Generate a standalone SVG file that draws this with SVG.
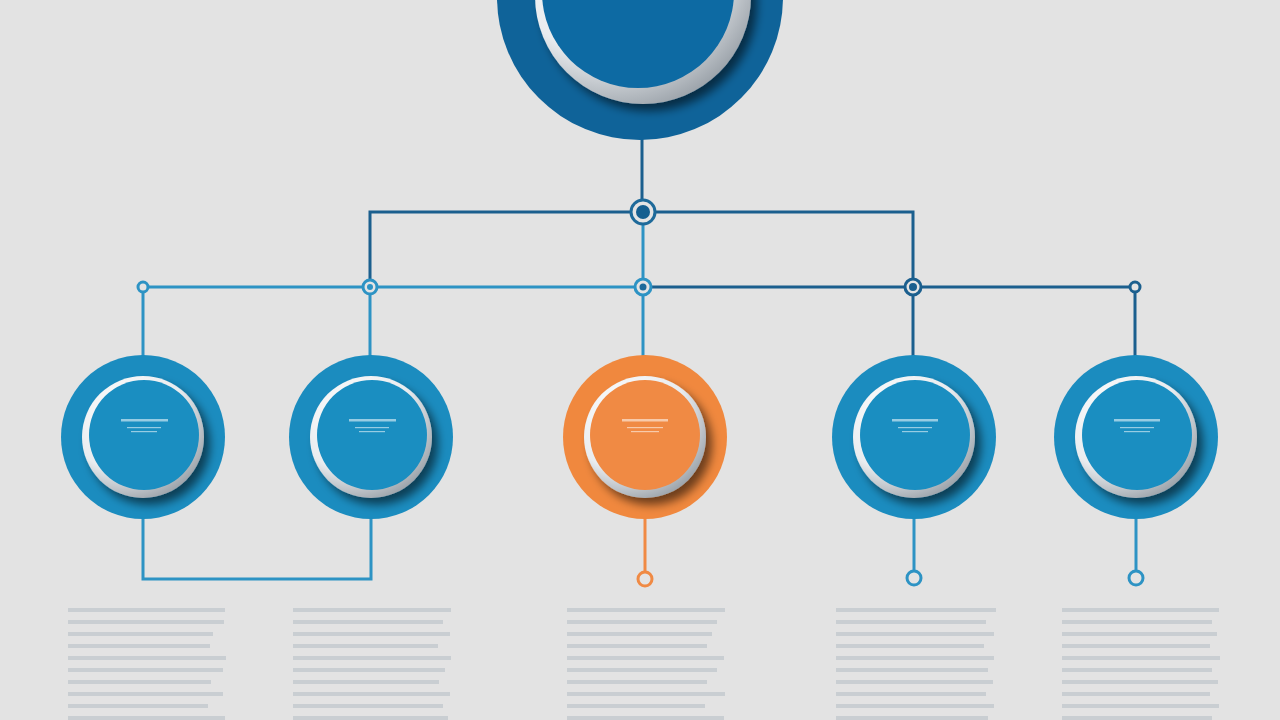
<svg xmlns="http://www.w3.org/2000/svg" width="1280" height="720" viewBox="0 0 1280 720">
  <defs>
    <radialGradient id="ring" cx="0.35" cy="0.3" r="0.8">
      <stop offset="0" stop-color="#ffffff"/>
      <stop offset="0.6" stop-color="#e9ecef"/>
      <stop offset="1" stop-color="#8e969e"/>
    </radialGradient>
    <filter id="sh" x="-30%" y="-30%" width="160%" height="160%">
      <feGaussianBlur in="SourceAlpha" stdDeviation="5"/>
      <feOffset dx="6" dy="7" result="b"/>
      <feComponentTransfer><feFuncA type="linear" slope="0.55"/></feComponentTransfer>
      <feMerge><feMergeNode/><feMergeNode in="SourceGraphic"/></feMerge>
    </filter>
    <style>
      .bl{stroke:#2d93c4;stroke-width:3;fill:none}
      .dk{stroke:#1b5f8e;stroke-width:3;fill:none}
      .jn{fill:#e4e4e4;stroke-width:3}
      .para rect{fill:#c2c8cd;opacity:0.8}
      .cap rect{fill:#ffffff;opacity:0.55}
    </style>
  </defs>
  <rect width="1280" height="720" fill="#e3e3e3"/>

  <g id="connectors">
    <line class="dk" x1="642" y1="138" x2="642" y2="202"/>
    <polyline class="dk" points="370,287 370,212 913,212 913,287"/>
    <line class="bl" x1="143" y1="287" x2="643" y2="287"/>
    <line class="dk" x1="643" y1="287" x2="1135" y2="287"/>
    <line class="bl" x1="643" y1="212" x2="643" y2="360"/>
    <line class="bl" x1="143" y1="287" x2="143" y2="360"/>
    <line class="bl" x1="370" y1="287" x2="370" y2="360"/>
    <line class="dk" x1="913" y1="287" x2="913" y2="360"/>
    <line class="dk" x1="1135" y1="287" x2="1135" y2="360"/>
    <polyline class="bl" points="143,515 143,579 371,579 371,515"/>
    <line stroke="#f08a44" stroke-width="3" x1="645" y1="515" x2="645" y2="572"/>
    <line class="bl" x1="914" y1="515" x2="914" y2="571"/>
    <line class="bl" x1="1136" y1="515" x2="1136" y2="571"/>
    <circle class="jn" cx="643" cy="212" r="12" stroke="#1e6a9a" stroke-width="4"/>
    <circle cx="643" cy="212" r="7" fill="#155f90"/>
    <circle class="jn" cx="143" cy="287" r="5" stroke="#2d93c4"/>
    <circle class="jn" cx="370" cy="287" r="7" stroke="#2d93c4"/>
    <circle cx="370" cy="287" r="3" fill="#2d93c4"/>
    <circle class="jn" cx="643" cy="287" r="8" stroke="#2d93c4"/>
    <circle cx="643" cy="287" r="3.5" fill="#1e6a9a"/>
    <circle class="jn" cx="913" cy="287" r="8" stroke="#1b5f8e"/>
    <circle cx="913" cy="287" r="4" fill="#1b5f8e"/>
    <circle class="jn" cx="1135" cy="287" r="5" stroke="#1b5f8e"/>
    <circle class="jn" cx="645" cy="579" r="7" stroke="#f08a44"/>
    <circle class="jn" cx="914" cy="578" r="7" stroke="#2d93c4"/>
    <circle class="jn" cx="1136" cy="578" r="7" stroke="#2d93c4"/>
  </g>

  <g id="root">
    <circle cx="640" cy="-3" r="143" fill="#0f6399"/>
    <circle cx="643" cy="-4" r="108" fill="url(#ring)" filter="url(#sh)"/>
    <circle cx="638" cy="-8" r="96" fill="#0d6aa3"/>
  </g>

  <g id="node1">
    <circle cx="143" cy="437" r="82" fill="#1b8cbf"/>
    <circle cx="143" cy="437" r="61" fill="url(#ring)" filter="url(#sh)"/>
    <circle cx="144" cy="435" r="55" fill="#1a8ec1"/>
    <g class="cap"><rect x="121" y="419" width="47" height="2.5"/><rect x="127" y="427" width="34" height="1.2"/><rect x="131" y="431" width="26" height="1.2"/></g>
  </g>
  <g id="node2">
    <circle cx="371" cy="437" r="82" fill="#1b8cbf"/>
    <circle cx="371" cy="437" r="61" fill="url(#ring)" filter="url(#sh)"/>
    <circle cx="372" cy="435" r="55" fill="#1a8ec1"/>
    <g class="cap"><rect x="349" y="419" width="47" height="2.5"/><rect x="355" y="427" width="34" height="1.2"/><rect x="359" y="431" width="26" height="1.2"/></g>
  </g>
  <g id="node3">
    <circle cx="645" cy="437" r="82" fill="#f0883e"/>
    <circle cx="645" cy="437" r="61" fill="url(#ring)" filter="url(#sh)"/>
    <circle cx="645" cy="435" r="55" fill="#f08a44"/>
    <g class="cap"><rect x="622" y="419" width="46" height="2.5"/><rect x="627" y="427" width="36" height="1.2"/><rect x="631" y="431" width="28" height="1.2"/></g>
  </g>
  <g id="node4">
    <circle cx="914" cy="437" r="82" fill="#1b8cbf"/>
    <circle cx="914" cy="437" r="61" fill="url(#ring)" filter="url(#sh)"/>
    <circle cx="915" cy="435" r="55" fill="#1a8ec1"/>
    <g class="cap"><rect x="892" y="419" width="46" height="2.5"/><rect x="898" y="427" width="34" height="1.2"/><rect x="902" y="431" width="26" height="1.2"/></g>
  </g>
  <g id="node5">
    <circle cx="1136" cy="437" r="82" fill="#1b8cbf"/>
    <circle cx="1136" cy="437" r="61" fill="url(#ring)" filter="url(#sh)"/>
    <circle cx="1137" cy="435" r="55" fill="#1a8ec1"/>
    <g class="cap"><rect x="1114" y="419" width="46" height="2.5"/><rect x="1120" y="427" width="34" height="1.2"/><rect x="1124" y="431" width="26" height="1.2"/></g>
  </g>

  <g class="para" id="para1">
    <rect x="68" y="608" width="157" height="4"/><rect x="68" y="620" width="156" height="4"/><rect x="68" y="632" width="145" height="4"/><rect x="68" y="644" width="142" height="4"/><rect x="68" y="656" width="158" height="4"/><rect x="68" y="668" width="155" height="4"/><rect x="68" y="680" width="143" height="4"/><rect x="68" y="692" width="155" height="4"/><rect x="68" y="704" width="140" height="4"/><rect x="68" y="716" width="157" height="4"/>
  </g>
  <g class="para" id="para2">
    <rect x="293" y="608" width="158" height="4"/><rect x="293" y="620" width="150" height="4"/><rect x="293" y="632" width="157" height="4"/><rect x="293" y="644" width="145" height="4"/><rect x="293" y="656" width="158" height="4"/><rect x="293" y="668" width="152" height="4"/><rect x="293" y="680" width="146" height="4"/><rect x="293" y="692" width="157" height="4"/><rect x="293" y="704" width="150" height="4"/><rect x="293" y="716" width="155" height="4"/>
  </g>
  <g class="para" id="para3">
    <rect x="567" y="608" width="158" height="4"/><rect x="567" y="620" width="150" height="4"/><rect x="567" y="632" width="145" height="4"/><rect x="567" y="644" width="140" height="4"/><rect x="567" y="656" width="157" height="4"/><rect x="567" y="668" width="150" height="4"/><rect x="567" y="680" width="140" height="4"/><rect x="567" y="692" width="158" height="4"/><rect x="567" y="704" width="138" height="4"/><rect x="567" y="716" width="157" height="4"/>
  </g>
  <g class="para" id="para4">
    <rect x="836" y="608" width="160" height="4"/><rect x="836" y="620" width="150" height="4"/><rect x="836" y="632" width="158" height="4"/><rect x="836" y="644" width="148" height="4"/><rect x="836" y="656" width="158" height="4"/><rect x="836" y="668" width="152" height="4"/><rect x="836" y="680" width="157" height="4"/><rect x="836" y="692" width="150" height="4"/><rect x="836" y="704" width="158" height="4"/><rect x="836" y="716" width="152" height="4"/>
  </g>
  <g class="para" id="para5">
    <rect x="1062" y="608" width="157" height="4"/><rect x="1062" y="620" width="150" height="4"/><rect x="1062" y="632" width="155" height="4"/><rect x="1062" y="644" width="148" height="4"/><rect x="1062" y="656" width="158" height="4"/><rect x="1062" y="668" width="150" height="4"/><rect x="1062" y="680" width="156" height="4"/><rect x="1062" y="692" width="148" height="4"/><rect x="1062" y="704" width="157" height="4"/><rect x="1062" y="716" width="150" height="4"/>
  </g>
</svg>
